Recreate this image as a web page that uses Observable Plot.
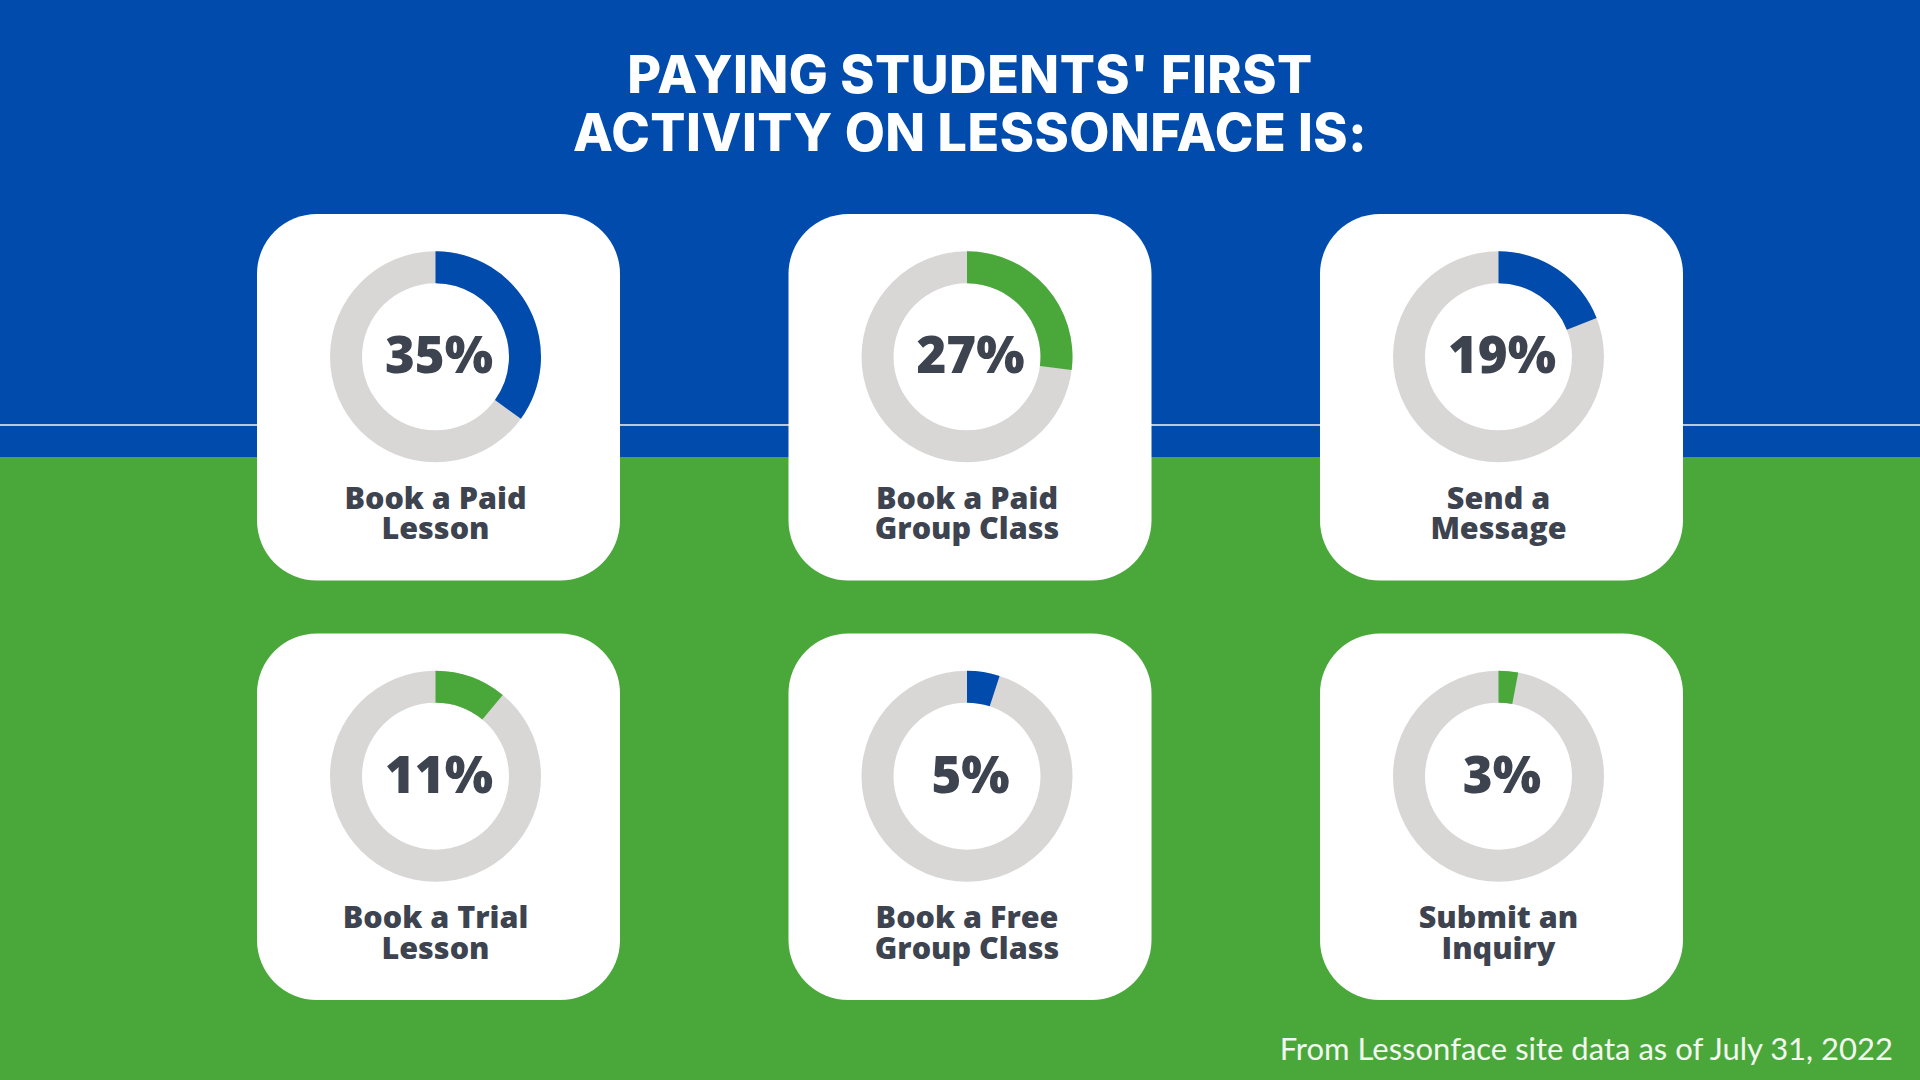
<!DOCTYPE html>
<html>
<head>
<meta charset="utf-8">
<script src="https://cdn.jsdelivr.net/npm/d3@7"></script>
<script src="https://cdn.jsdelivr.net/npm/@observablehq/plot@0.6"></script>
<style>
html, body { margin: 0; padding: 0; }
body { width: 1920px; height: 1080px; overflow: hidden; }
#wrap {
  position: relative; width: 1920px; height: 1080px;
  background: linear-gradient(to bottom, #014bad 0px, #014bad 457px, #4aa83b 457px, #4aa83b 100%);
}
#rule { position: absolute; left: 0; top: 424px; width: 1920px; height: 2px; background: #b9c8da; }
#title {
  position: absolute; left: 0; top: 46px; width: 1940px; text-align: center;
  color: #ffffff; font-family: Inter, sans-serif; font-weight: 800; font-size: 52px;
  line-height: 58px; letter-spacing: 0.5px; margin: 0;
}
#chart { position: absolute; left: 0; top: 0; }
#caption {
  position: absolute; right: 27px; top: 1029px; line-height: 38px;
  font-family: Lato, sans-serif; font-size: 31px; color: #f2f7f0; white-space: nowrap;
}
</style>
</head>
<body>
<div id="wrap">
  <div id="rule"></div>
  <div id="title">PAYING STUDENTS' FIRST<br>ACTIVITY ON LESSONFACE IS:</div>
  <div id="chart"></div>
  <div id="caption">From Lessonface site data as of July 31, 2022</div>
</div>
<script>
// ---- data ----
const activities = [
  "Book a Paid\nLesson",
  "Book a Paid\nGroup Class",
  "Send a\nMessage",
  "Book a Trial\nLesson",
  "Book a Free\nGroup Class",
  "Submit an\nInquiry"
];
const shares = [35, 27, 19, 11, 5, 3];
const gridColumns = [0, 1, 2];
const gridRows = [0, 1];

// ---- styles ----
const BLUE = "#014bad", GREEN = "#4aa83b", RING = "#d9d6d6", INK = "#3d434f";
const OUTER = 105.5, INNER = 73.5;

const records = activities.map((activity, i) => ({
  activity, share: shares[i], idx: i,
  col: gridColumns[i % gridColumns.length],
  row: gridRows[Math.floor(i / gridColumns.length)]
}));

function ringSymbol(frac) {
  return {
    draw(ctx) {
      d3.arc().context(ctx)({innerRadius: INNER, outerRadius: OUTER, startAngle: 0, endAngle: 2 * Math.PI * frac});
    }
  };
}

const chart = Plot.plot({
  width: 1920, height: 1080, margin: 0,
  style: {background: "transparent", overflow: "visible"},
  x: {type: "band", domain: gridColumns, range: [257, 1683], paddingInner: 0.317, paddingOuter: 0, round: false, axis: null},
  y: {type: "band", domain: gridRows, range: [214, 1000], paddingInner: 0.126, paddingOuter: 0, round: false, axis: null},
  color: {type: "ordinal", domain: [0, 1], range: [BLUE, GREEN]},
  marks: [
    Plot.cell(records, {x: "col", y: "row", fill: "white", rx: 60}),
    Plot.dot(records, {x: "col", y: "row", dx: -3.5, dy: -41, symbol: ringSymbol(1), fill: RING}),
    Plot.dot(records, {x: "col", y: "row", dx: -3.5, dy: -41, symbol: d => ringSymbol(d.share / 100), fill: d => d.idx % 2}),
    Plot.text(records, {x: "col", y: "row", dy: -41, text: d => `${d.share}%`, fontSize: 51, fontWeight: 800, fontFamily: "Open Sans", fill: INK, lineAnchor: "middle"}),
    Plot.text(records, {x: "col", y: "row", dx: -3.5, dy: 116.5, text: "activity", fontSize: 30.5, fontWeight: 800, fontFamily: "Open Sans", fill: INK, lineHeight: 1, lineAnchor: "middle"})
  ]
});
document.getElementById("chart").appendChild(chart);
</script>
</body>
</html>
